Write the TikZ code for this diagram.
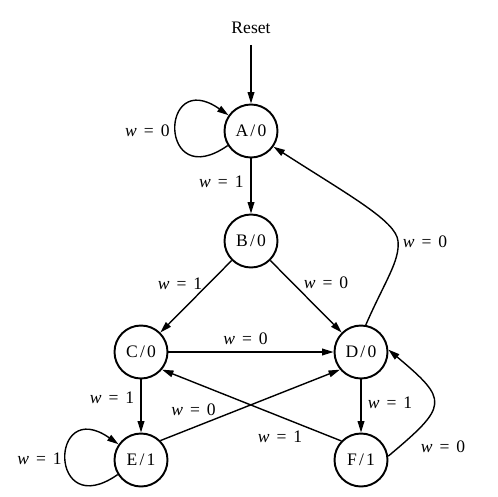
\documentclass[tikz,border=0pt]{standalone}
\usepackage{fontspec}
\setmainfont{Liberation Serif}
\usetikzlibrary{arrows.meta}

\tikzstyle{state}=[draw,circle,line width=1.1pt,minimum size=1.06cm,inner sep=0pt]
\tikzstyle{trans} = [draw,line width=0.8pt,-{Triangle[length=6.5pt,width=3.8pt]}]
\tikzstyle{lbl}=[inner sep=0pt]
\newcommand{\wlab}[1]{\textit{w}\hspace{4pt}=\hspace{4pt}#1}
\newcommand{\st}[2]{#1\kern1.2pt/\kern1.2pt#2}

\begin{document}
\begin{tikzpicture}
\useasboundingbox (0,0) rectangle (9.96,9.92);

\node[lbl] (reset) at (5.02,9.36) {Reset};
\coordinate (rst) at (5.02,9.02);

\node[state] (A) at (5.02,7.30) {\st{A}{0}};
\node[state] (B) at (5.02,5.10) {\st{B}{0}};
\node[state] (C) at (2.82,2.88) {\st{C}{0}};
\node[state] (D) at (7.22,2.88) {\st{D}{0}};
\node[state] (E) at (2.82,0.72) {\st{E}{1}};
\node[state] (F) at (7.22,0.72) {\st{F}{1}};

\draw[trans] (rst) to (A);
\draw[trans] (A.212) .. controls +(215:1.7) and +(145:1.7) .. (A.145);
\node[lbl,anchor=east] (lAA) at (3.40,7.30) {\wlab{0}};
\draw[trans] (A) to (B);
\node[lbl,anchor=east] (lAB) at (4.88,6.28) {\wlab{1}};

\draw[trans] (B) to (C);
\node[lbl] (lBC) at (3.60,4.24) {\wlab{1}};
\draw[trans] (B) to (D);
\node[lbl] (lBD) at (6.52,4.26) {\wlab{0}};

\draw[trans] (C) to (D);
\node[lbl] (lCD) at (4.91,3.14) {\wlab{0}};
\draw[trans] (D.80) .. controls (7.70,4.30) and (8.00,4.70) .. (7.96,5.10)
  .. controls (7.92,5.50) and (7.00,6.00) .. (A.-35);
\node[lbl] (lDA) at (8.50,5.08) {\wlab{0}};

\draw[trans] (C) to (E);
\node[lbl] (lCE) at (2.24,1.96) {\wlab{1}};
\draw[trans] (E.45) to (D.220);
\node[lbl] (lED) at (3.87,1.72) {\wlab{0}};
\draw[trans] (F.136) to (C.-40);
\node[lbl] (lFC) at (5.60,1.18) {\wlab{1}};

\draw[trans] (D) to (F);
\node[lbl] (lDF) at (7.80,1.86) {\wlab{1}};
\draw[trans] (F.8) to[out=40,in=-40,looseness=1.9] (D.5);
\node[lbl] (lFD) at (8.86,0.98) {\wlab{0}};

\draw[trans] (E.212) .. controls +(215:1.7) and +(145:1.7) .. (E.145);
\node[lbl] (lEE) at (0.79,0.74) {\wlab{1}};
\end{tikzpicture}
\end{document}
